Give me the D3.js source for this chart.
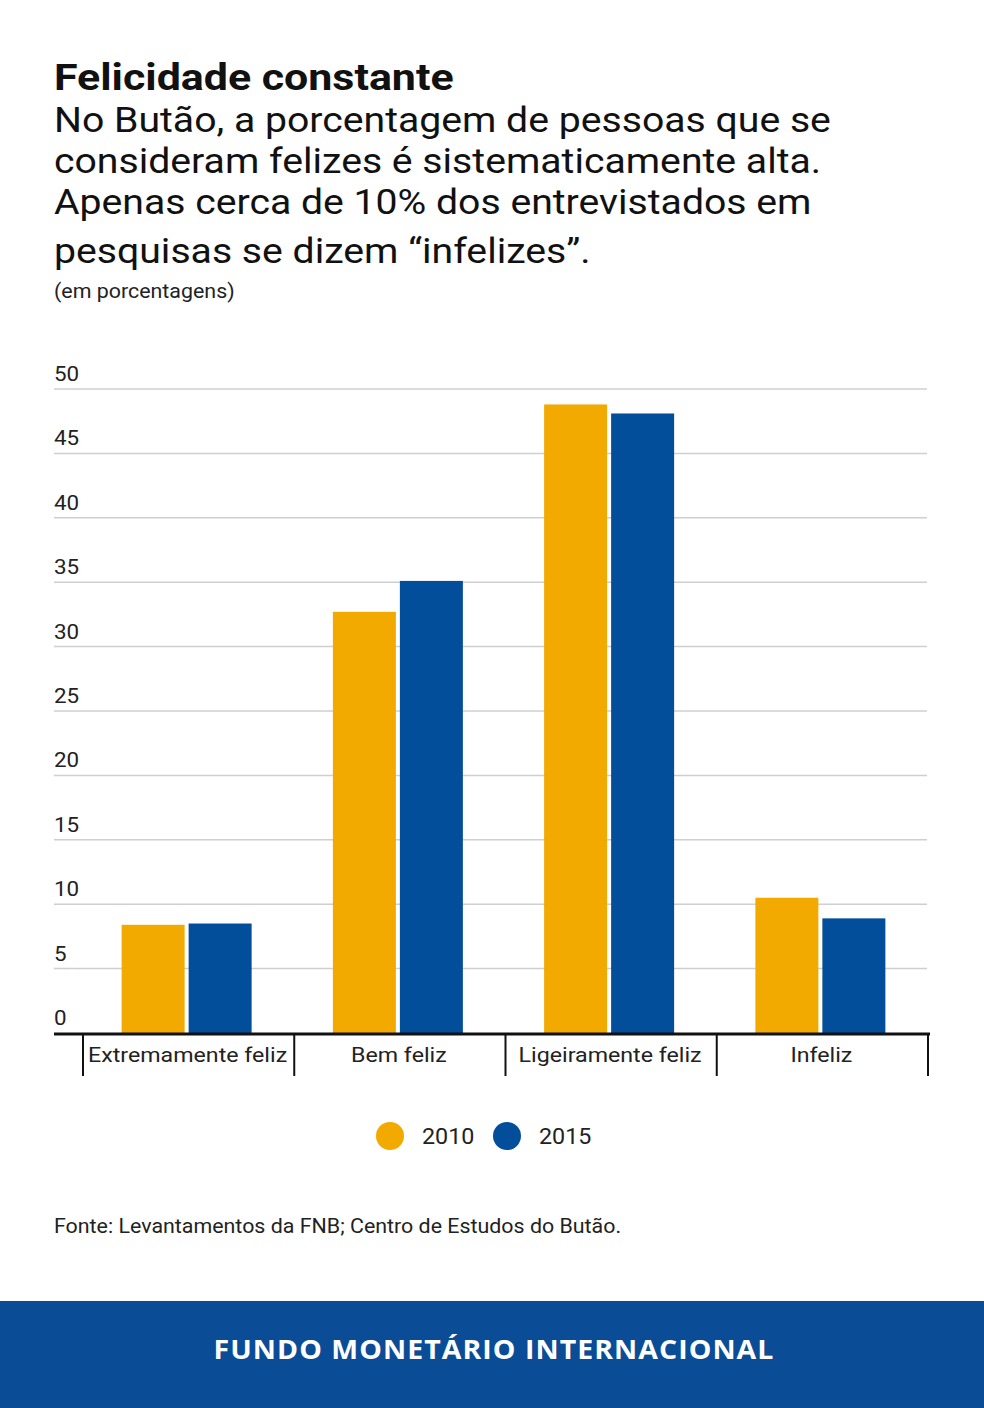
<!DOCTYPE html>
<html>
<head>
<meta charset="utf-8">
<script src="https://d3js.org/d3.v7.min.js"></script>
<style>
  body { margin: 0; background: #fff; }
  svg { display: block; font-family: Roboto, sans-serif; }
</style>
</head>
<body>
<div id="chartHere"></div>
<script>
// data
var categories = ["Extremamente feliz", "Bem feliz", "Ligeiramente feliz", "Infeliz"];
var years = ["2010", "2015"];
var values2010 = [8.4, 32.7, 48.8, 10.5];
var values2015 = [8.5, 35.1, 48.1, 8.9];
var yTicks = [0, 5, 10, 15, 20, 25, 30, 35, 40, 45, 50];
var colors = ["#f2a900", "#034e9a"];

var titleText = "Felicidade constante";
var subLines = ["No Butão, a porcentagem de pessoas que se",
                "consideram felizes é sistematicamente alta.",
                "Apenas cerca de 10% dos entrevistados em",
                "pesquisas se dizem \u201cinfelizes\u201d."];
var unitText = "(em porcentagens)";
var sourceText = "Fonte: Levantamentos da FNB; Centro de Estudos do Butão.";
var footerText = "FUNDO MONETÁRIO INTERNACIONAL";

var dims = {width: 984, height: 1408};
var plot = {left: 54, right: 927, top: 389, bottom: 1033};

var svg = d3.select("#chartHere").append("svg")
  .attr("width", dims.width)
  .attr("height", dims.height);

// the original type is a bit wider than Roboto, stretch it around its anchor
function stretch(sel, sx) {
  sel.attr("transform", function() {
    var x = +this.getAttribute("x"), y = +this.getAttribute("y");
    return "translate(" + x + "," + y + ") scale(" + sx + ",1) translate(" + (-x) + "," + (-y) + ")";
  });
}

// headings
svg.append("text")
  .attr("x", 54).attr("y", 90)
  .attr("font-size", 37).attr("font-weight", 700).attr("fill", "#111")
  .text(titleText)
  .call(stretch, 1.16);

svg.selectAll("text.sub")
  .data(subLines).enter().append("text")
  .attr("class", "sub")
  .attr("x", 54)
  .attr("y", function(d, i) { return [132, 173, 214, 263][i]; })
  .attr("font-size", 35).attr("fill", "#111")
  .text(function(d) { return d; })
  .call(stretch, 1.12);

svg.append("text")
  .attr("x", 54).attr("y", 298)
  .attr("font-size", 20).attr("fill", "#222")
  .text(unitText)
  .call(stretch, 1.07);

// scales
var y = d3.scaleLinear().domain([0, 50]).range([plot.bottom, plot.top]);
var x0 = d3.scaleBand().domain(categories).range([83, 928]);
var barW = 63, gap = 4;
var x1 = d3.scaleOrdinal().domain(years).range([-(barW + gap / 2) - 2, gap / 2 - 2]);

// gridlines + tick labels
var grid = svg.append("g");
grid.selectAll("line")
  .data(yTicks.filter(function(d) { return d > 0; })).enter().append("line")
  .attr("x1", plot.left).attr("x2", plot.right)
  .attr("y1", function(d) { return y(d); })
  .attr("y2", function(d) { return y(d); })
  .attr("stroke", "#cfcfcf").attr("stroke-width", 1.5);

grid.selectAll("text")
  .data(yTicks).enter().append("text")
  .attr("x", 54)
  .attr("y", function(d) { return y(d) - 8; })
  .attr("font-size", 20).attr("fill", "#222")
  .text(function(d) { return d; })
  .call(stretch, 1.12);

// bars
var series = [values2010, values2015];
series.forEach(function(vals, s) {
  svg.append("g").selectAll("rect")
    .data(vals).enter().append("rect")
    .attr("x", function(d, i) { return x0(categories[i]) + x0.bandwidth() / 2 + x1(years[s]); })
    .attr("width", barW)
    .attr("y", function(d) { return y(d); })
    .attr("height", function(d) { return y(0) - y(d); })
    .attr("fill", colors[s]);
});

// baseline and category separators
svg.append("line")
  .attr("x1", plot.left).attr("x2", 930)
  .attr("y1", y(0) + 1).attr("y2", y(0) + 1)
  .attr("stroke", "#111").attr("stroke-width", 3);

var seps = x0.domain().map(function(c) { return x0(c); }).concat([x0.range()[1]]);
svg.selectAll("line.sep")
  .data(seps).enter().append("line")
  .attr("class", "sep")
  .attr("x1", function(d) { return d; }).attr("x2", function(d) { return d; })
  .attr("y1", y(0)).attr("y2", 1076)
  .attr("stroke", "#111").attr("stroke-width", 2);

svg.selectAll("text.cat")
  .data(categories).enter().append("text")
  .attr("class", "cat")
  .attr("x", function(d) { return x0(d) + x0.bandwidth() / 2 - 1; })
  .attr("y", 1062)
  .attr("text-anchor", "middle")
  .attr("font-size", 20).attr("fill", "#222")
  .text(function(d) { return d; })
  .call(stretch, 1.16);

// legend
var legX = [390, 507];
var leg = svg.selectAll("g.leg")
  .data(years).enter().append("g")
  .attr("class", "leg")
  .attr("transform", function(d, i) { return "translate(" + legX[i] + ",1136)"; });
leg.append("circle").attr("r", 14).attr("fill", function(d, i) { return colors[i]; });
leg.append("text")
  .attr("x", 32).attr("y", 8)
  .attr("font-size", 22).attr("fill", "#222")
  .text(function(d) { return d; })
  .call(stretch, 1.06);

// source
svg.append("text")
  .attr("x", 54).attr("y", 1233)
  .attr("font-size", 20).attr("fill", "#222")
  .text(sourceText)
  .call(stretch, 1.07);

// footer band
svg.append("rect")
  .attr("x", 0).attr("y", 1301)
  .attr("width", dims.width).attr("height", dims.height - 1301)
  .attr("fill", "#0a4c96");
svg.append("text")
  .attr("x", 494).attr("y", 1359)
  .attr("text-anchor", "middle")
  .attr("font-family", "'Open Sans', sans-serif")
  .attr("font-size", 27).attr("font-weight", 700)
  .attr("letter-spacing", 1)
  .attr("fill", "#fff")
  .text(footerText)
  .call(stretch, 1.055);
</script>
</body>
</html>
